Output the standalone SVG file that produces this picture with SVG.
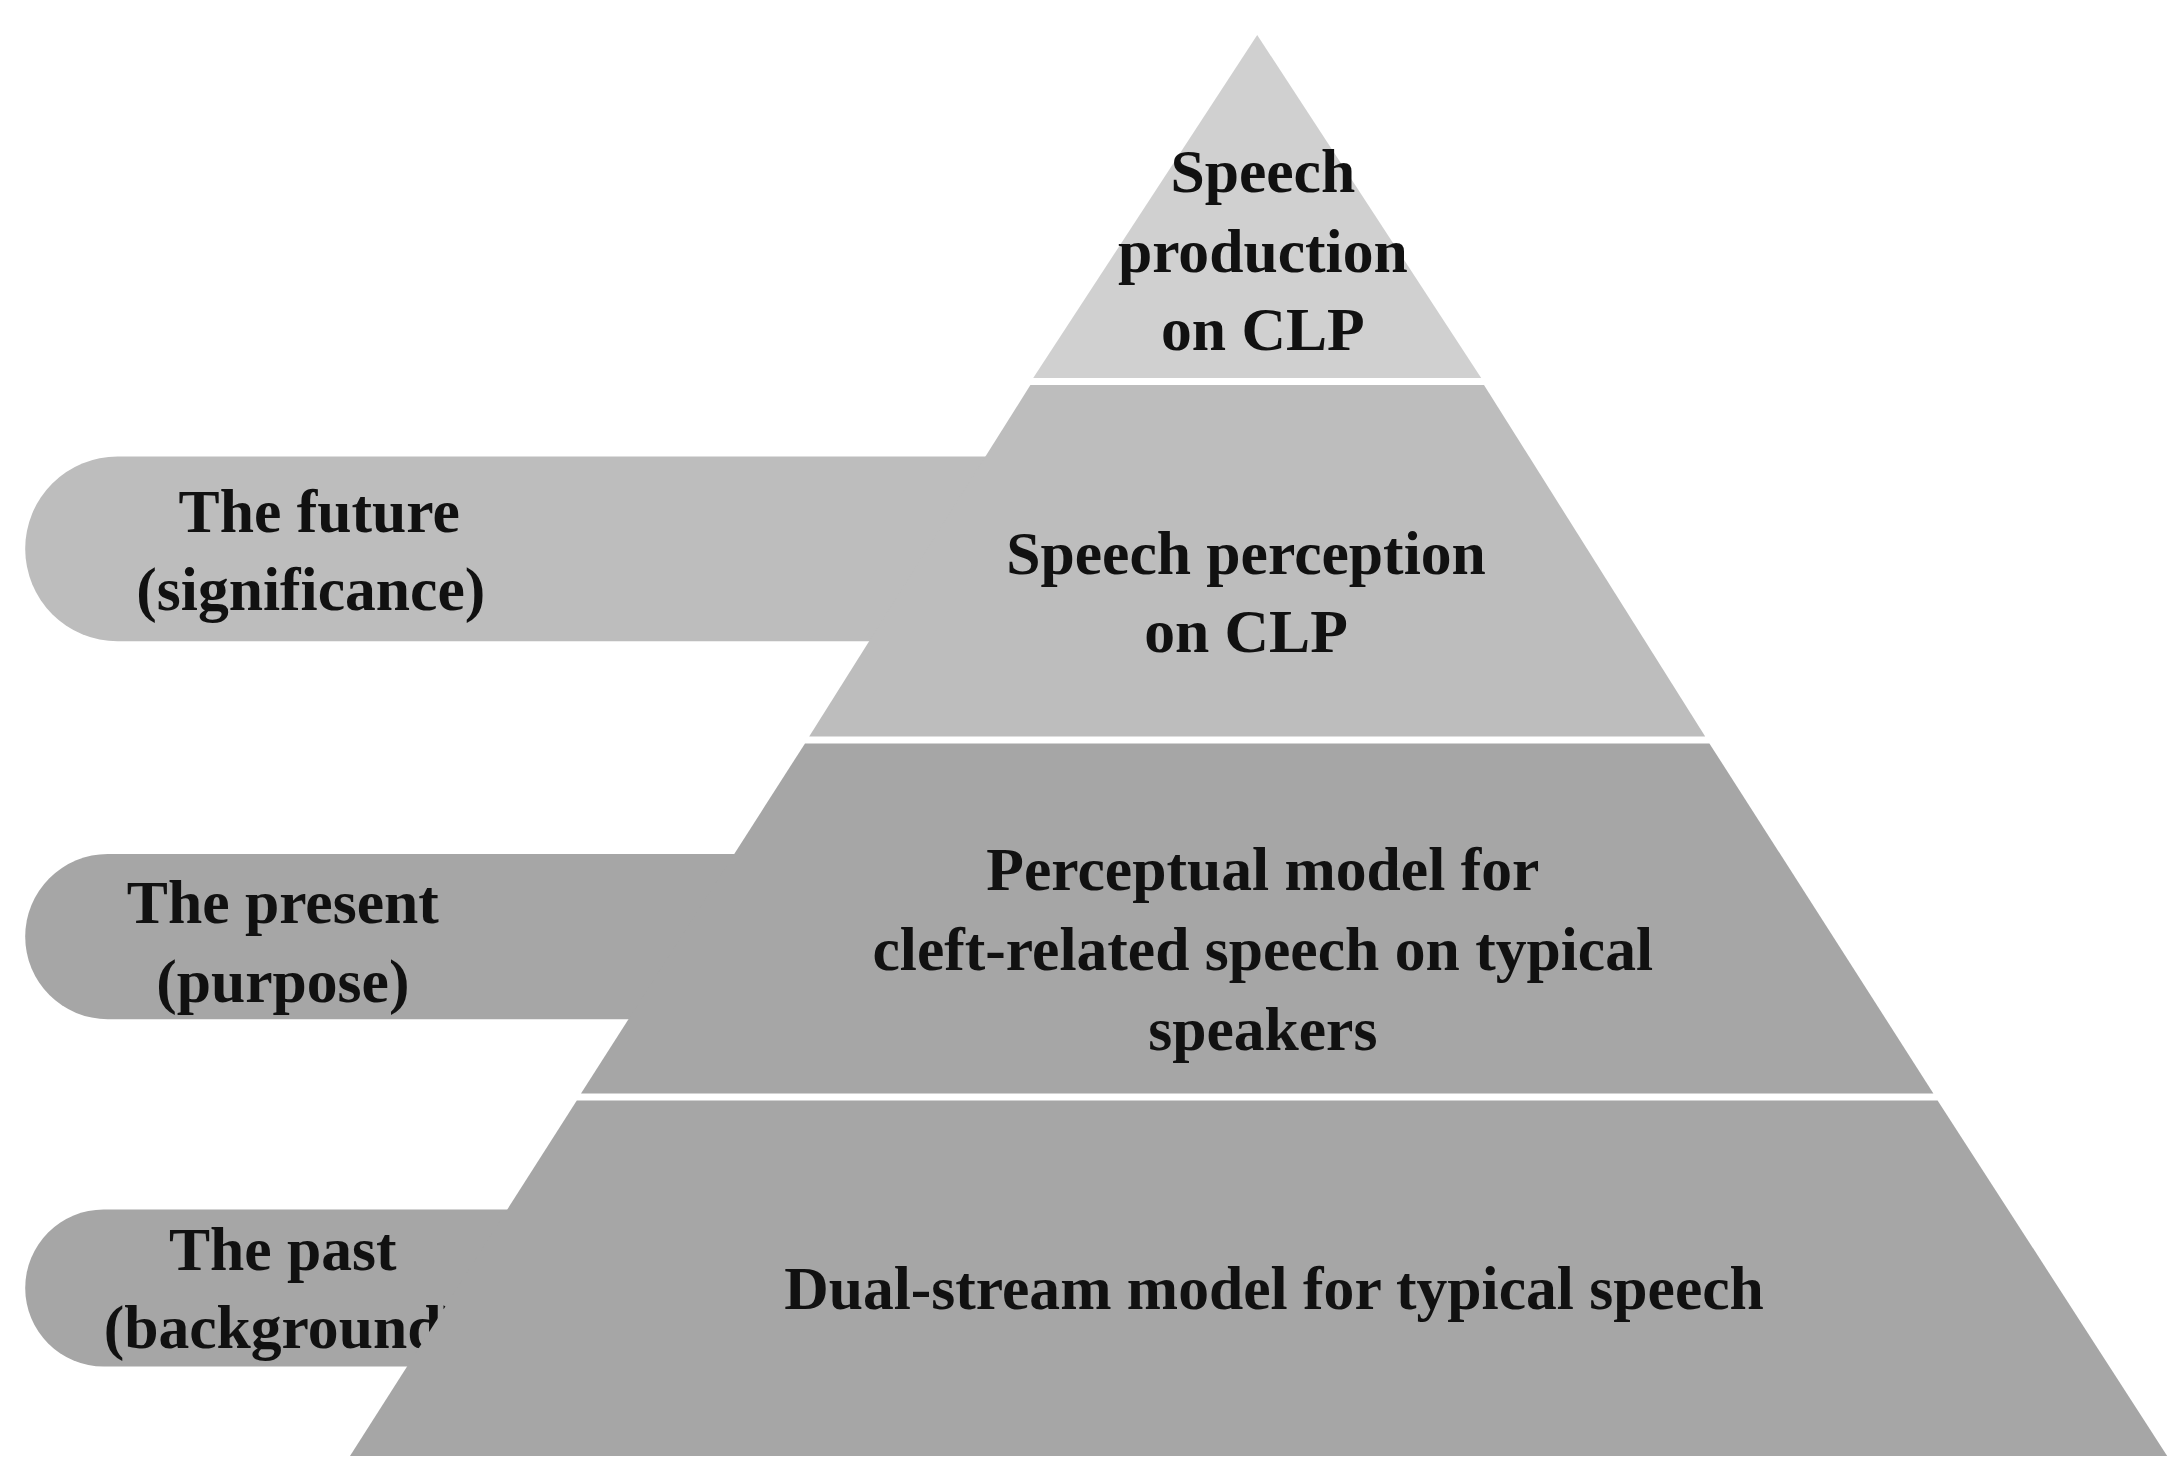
<svg xmlns="http://www.w3.org/2000/svg" width="2173" height="1472" viewBox="0 0 2173 1472">
<style>
text{font-family:"Liberation Serif","DejaVu Serif",serif;font-weight:bold;font-size:44px;fill:#111;text-anchor:middle}
.l1{fill:#d0d0d0}.l2{fill:#bdbdbd}.l3{fill:#a6a6a6}
</style>
<rect width="2173" height="1472" fill="#fff"/>
<g transform="scale(1.4)">
<g id="tab-future"><path class="l2" d="M84,326 H720 V458 H84 A66,66 0 0 1 84,326 Z"/><text x="228" y="380">The future</text><text x="222" y="436">(significance)</text></g>
<g id="tab-present"><path class="l3" d="M77,610 H560 V728 H77 A59,59 0 0 1 77,610 Z"/><text x="202" y="659">The present</text><text x="202" y="716">(purpose)</text></g>
<g id="tab-past"><path class="l3" d="M74,864 H400 V976 H74 A56,56 0 0 1 74,864 Z"/><text x="202" y="907">The past</text><text x="202" y="963">(background)</text></g>
<g id="level1"><polygon class="l1" points="898,25 738,270 1058,270"/><text x="902" y="137">Speech</text><text x="902" y="194">production</text><text x="902" y="250">on CLP</text></g>
<g id="level2"><polygon class="l2" points="736,275 1060,275 1218,526 578,526"/><text x="890" y="410">Speech perception</text><text x="890" y="466">on CLP</text></g>
<g id="level3"><polygon class="l3" points="575,531 1221,531 1381,781 415,781"/><text x="902" y="636">Perceptual model for</text><text x="902" y="693">cleft-related speech on typical</text><text x="902" y="750">speakers</text></g>
<g id="level4"><polygon class="l3" points="412,786 1384,786 1548,1040 250,1040"/><text x="910" y="935">Dual-stream model for typical speech</text></g>
<g id="connectors"/>
</g>
</svg>
